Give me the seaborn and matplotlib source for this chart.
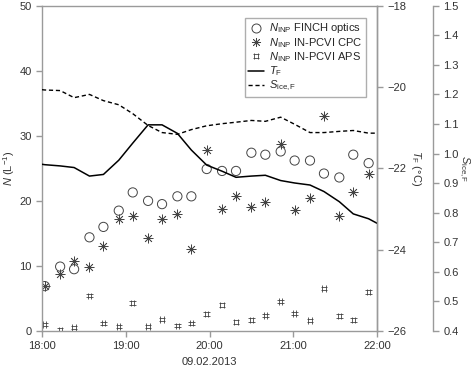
import numpy as np
import pandas as pd
import seaborn as sns
import matplotlib.pyplot as plt
from matplotlib.lines import Line2D
from matplotlib.path import Path

# measurement times (hh:mm) and the three INP series, N in L^-1
times = ["18:02", "18:13", "18:23", "18:34", "18:44", "18:55", "19:05", "19:16",
         "19:26", "19:37", "19:47", "19:58", "20:09", "20:19", "20:30", "20:40",
         "20:51", "21:01", "21:12", "21:22", "21:33", "21:43", "21:54"]
finch = [6.9, 9.9, 9.5, 14.4, 16.0, 18.5, 21.3, 20.0, 19.5, 20.7, 20.7, 24.9,
         24.6, 24.6, 27.4, 27.1, 27.6, 26.2, 26.2, 24.2, 23.6, 27.1, 25.8]
cpc = [6.9, 8.8, 10.7, 9.9, 13.0, 17.2, 17.6, 14.3, 17.2, 18.0, 12.6, 27.8,
       18.7, 20.7, 19.1, 19.9, 28.7, 18.6, 20.4, 33.1, 17.6, 21.3, 24.2]
aps = [1.0, 0.15, 0.5, 5.4, 1.2, 0.7, 4.3, 0.7, 1.8, 0.8, 1.2, 2.6,
       4.0, 1.4, 1.7, 2.4, 4.5, 2.7, 1.6, 6.5, 2.3, 1.7, 6.0]

# temperature and ice saturation (line series, include the 18:00 / 22:00 ends)
line_times = ["18:00"] + times + ["22:00"]
temp = [-21.90, -21.91, -21.94, -21.98, -22.19, -22.15, -21.80, -21.38, -20.93,
        -20.93, -21.14, -21.55, -21.92, -22.07, -22.22, -22.19, -22.17, -22.30,
        -22.36, -22.41, -22.57, -22.82, -23.12, -23.24, -23.35]
sice = [1.216, 1.215, 1.213, 1.189, 1.200, 1.179, 1.165, 1.135, 1.095, 1.071,
        1.065, 1.081, 1.094, 1.101, 1.106, 1.112, 1.109, 1.123, 1.099, 1.071,
        1.071, 1.075, 1.078, 1.069, 1.069]

hour_ticks = ["18:00", "19:00", "20:00", "21:00", "22:00"]


def to_hours(labels):
    t = pd.to_datetime(labels, format="%H:%M")
    return t.hour + t.minute / 60.0


sns.set_style("ticks")
plt.rcParams["font.family"] = ["Liberation Sans", "DejaVu Sans"]
plt.rcParams["mathtext.fontset"] = "custom"
plt.rcParams["mathtext.rm"] = "Liberation Sans"
plt.rcParams["mathtext.it"] = "Liberation Sans:italic"
plt.rcParams["font.size"] = 8

grey = "#9a9a9a"
ink = "#333333"
mark = "#444444"

df = pd.DataFrame({"t": to_hours(times), "finch": finch, "cpc": cpc, "aps": aps})
dl = pd.DataFrame({"t": to_hours(line_times), "temp": temp, "sice": sice})

# '#'-like marker for the APS points
hash_verts = [(-0.45, -0.9), (-0.45, 0.9), (0.45, -0.9), (0.45, 0.9),
              (-0.9, -0.45), (0.9, -0.45), (-0.9, 0.45), (0.9, 0.45)]
hash_codes = [Path.MOVETO, Path.LINETO] * 4
hash_marker = Path(hash_verts, hash_codes)
star_marker = (8, 2, 0)

fig = plt.figure(figsize=(4.74, 3.69), dpi=100)
ax = fig.add_axes([42 / 474, 1 - 331 / 369, 335 / 474, 325.3 / 369])

sns.scatterplot(data=df, x="t", y="finch", ax=ax, marker="o", s=44,
                facecolors="none", edgecolor=mark, linewidth=0.7)
sns.scatterplot(data=df, x="t", y="cpc", ax=ax, marker=star_marker, s=44,
                color=mark, linewidth=0.55)
sns.scatterplot(data=df, x="t", y="aps", ax=ax, marker=hash_marker, s=22,
                facecolors="none", edgecolor=mark, linewidth=0.6)

ax.set_xlim(18, 22)
ax.set_ylim(0, 50)
ax.set_xticks(to_hours(hour_ticks))
ax.set_xticklabels(hour_ticks)
ax.set_yticks(range(0, 51, 10))
ax.set_xlabel("09.02.2013", fontsize=8, color=ink)
ax.set_ylabel(r"$N$ (L$^{-1}$)", fontsize=8, color=ink)
ax.yaxis.set_label_coords(-25 / 335, 0.5)

ax2 = ax.twinx()
sns.lineplot(data=dl, x="t", y="temp", ax=ax2, color="black", lw=1.1)
ax2.set_ylim(-26, -18)
ax2.set_yticks(range(-26, -17, 2))
ax2.set_ylabel(r"$T_{\mathrm{F}}$ ($\degree$C)", rotation=270, fontsize=8,
               color=ink, labelpad=12)

ax3 = ax.twinx()
sns.lineplot(data=dl, x="t", y="sice", ax=ax3, color="black", lw=1.0,
             linestyle=(0, (3, 2)))
ax3.set_ylim(0.4, 1.5)
ax3.set_yticks(np.round(np.arange(0.4, 1.51, 0.1), 1))
ax3.spines["right"].set_position(("axes", (433 - 42) / 335))
ax3.set_ylabel(r"$S_{\mathrm{ice,F}}$", rotation=270, fontsize=8,
               color=ink, labelpad=9)

for a in (ax, ax2, ax3):
    for sp in a.spines.values():
        sp.set_color(grey)
        sp.set_linewidth(1.0)
    a.tick_params(colors=grey, labelcolor=ink, labelsize=8, length=4, width=1.0)
for a in (ax2, ax3):
    a.spines["left"].set_visible(False)
    a.spines["top"].set_visible(False)
    a.spines["bottom"].set_visible(False)
ax.spines["top"].set_visible(True)
ax.spines["right"].set_visible(True)

handles = [
    Line2D([], [], ls="none", marker="o", mfc="none", mec=mark, ms=6.5, mew=0.7),
    Line2D([], [], ls="none", marker=star_marker, color=mark, ms=6.5, mew=0.55),
    Line2D([], [], ls="none", marker=hash_marker, mfc="none", mec=mark, ms=4.5, mew=0.6),
    Line2D([], [], color="black", lw=1.1),
    Line2D([], [], color="black", lw=1.0, ls=(0, (3, 2))),
]
labels = [r"$N_{\mathrm{INP}}$ FINCH optics", r"$N_{\mathrm{INP}}$ IN-PCVI CPC",
          r"$N_{\mathrm{INP}}$ IN-PCVI APS", r"$T_{\mathrm{F}}$",
          r"$S_{\mathrm{ice,F}}$"]
leg = ax3.legend(handles, labels, loc="upper right", bbox_to_anchor=(0.967, 0.962),
                 borderaxespad=0, fontsize=8, frameon=True, fancybox=False,
                 handlelength=1.4, handletextpad=0.5, labelspacing=0.05,
                 borderpad=0.3)
leg.get_frame().set_edgecolor(grey)
leg.get_frame().set_linewidth(1.0)

fig.savefig("out.png", dpi=100)
